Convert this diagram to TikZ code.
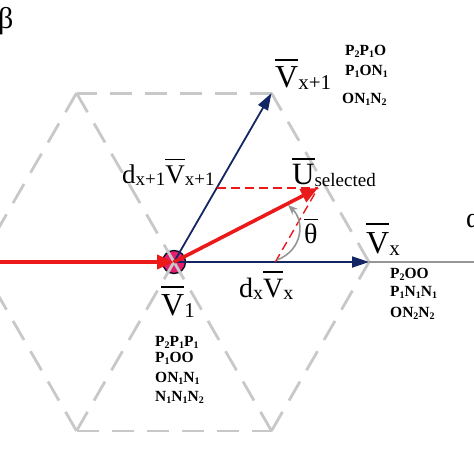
\documentclass[tikz,border=0pt]{standalone}
\usepackage{fontspec}
\setmainfont{Liberation Serif}
\usetikzlibrary{arrows.meta}
\definecolor{navy}{RGB}{18,38,100}
\definecolor{vred}{RGB}{235,25,25}
\definecolor{hexg}{RGB}{200,200,200}
\definecolor{pinkc}{RGB}{228,30,110}
\definecolor{arcg}{RGB}{150,150,150}
\newcommand\ovl[2][5pt]{\leavevmode\vbox{\hrule height 1.6pt\kern#1\hbox{#2}}}
\newcommand\lsub[2]{\raisebox{-2pt}{\fontsize{#1}{#1}\selectfont #2}}
\newcommand\bsub[1]{\raisebox{-2.5pt}{\fontsize{10}{10}\selectfont #1}}
\begin{document}
\begin{tikzpicture}[x=1pt,y=1pt,
  hexline/.style={draw=hexg,line width=2.8pt,dash pattern=on 22pt off 13pt},
  bluearrow/.style={draw=navy,line width=1.8pt,-{Triangle[length=17pt,width=11pt]}},
  redarrow/.style={draw=vred,line width=3.6pt,-{Triangle[length=17pt,width=14pt]}},
  reddash/.style={draw=vred,line width=1.4pt,dash pattern=on 9pt off 5pt},
  arcarrow/.style={draw=arcg,line width=1.6pt,-{Stealth[length=10pt,width=8pt]}},
  lbl/.style={inner sep=0pt,anchor=base west},
  sw/.style={inner sep=0pt,anchor=base west,font=\fontsize{15.5}{16}\selectfont\bfseries}]
\useasboundingbox (0,-474) rectangle (474,0);
% hexagon geometry
\coordinate (c)  at (174,-262);
\coordinate (h0) at (369,-262);
\coordinate (h1) at (271.5,-93.1);
\coordinate (h2) at (76.5,-93.1);
\coordinate (h3) at (-21,-262);
\coordinate (h4) at (76.5,-430.9);
\coordinate (h5) at (271.5,-430.9);
\coordinate (lft) at (0,-262);
\coordinate (aend) at (474,-262);
\coordinate (u) at (318,-188);
\coordinate (da) at (216.7,-188);
\coordinate (db) at (275.3,-262);
\coordinate (th1) at (277,-260);
\coordinate (th2) at (288,-205);
% V1 circle
\node[circle,minimum size=23pt,inner sep=0pt,fill=pinkc,draw=black!70!navy,line width=1.3pt] (v1) at (c) {};
% hexagon edges
\draw[hexline] (h0) -- (h1);
\draw[hexline] (h1) -- (h2);
\draw[hexline] (h2) -- (h3);
\draw[hexline] (h4) -- (h3);
\draw[hexline] (h4) -- (h5);
\draw[hexline] (h5) -- (h0);
% spokes
\draw[hexline] (h2) -- (c);
\draw[hexline] (h4) -- (c);
\draw[hexline] (h5) -- (c);
% alpha axis
\draw[draw=arcg,line width=1.4pt] (h0) -- (aend);
% blue vectors
\draw[bluearrow] (v1.center) -- (h0);
\draw[bluearrow] (v1.center) -- (h1);
% red vectors
\draw[redarrow] (lft) -- (v1.center);
\draw[redarrow] (v1.center) -- (u);
% projections
\draw[reddash] (da) -- (u);
\draw[reddash] (db) -- (u);
% theta arc
\draw[arcarrow] (th1) .. controls (303,-250) and (305,-221) .. (th2);
% labels
\node[lbl,font=\fontsize{30}{30}\selectfont] (beta) at (-2,-28) {β};
\node[lbl,font=\fontsize{28}{28}\selectfont] (alpha) at (466,-227) {α};
\node[lbl,font=\fontsize{32}{32}\selectfont] (lvx1) at (275,-87) {\ovl{V}\lsub{21}{x+1}};
\node[lbl,font=\fontsize{27}{27}\selectfont] (ldx1) at (122,-183) {d\lsub{19}{x+1}\ovl{V}\lsub{19}{x+1}};
\node[lbl,font=\fontsize{31}{31}\selectfont] (lu) at (292,-184) {\ovl[4pt]{U}\lsub{19}{selected}};
\node[lbl,font=\fontsize{28}{28}\selectfont] (lth) at (304,-243) {\ovl[3pt]{θ}};
\node[lbl,font=\fontsize{32}{32}\selectfont] (lvx) at (366,-253) {\ovl[7pt]{V}\lsub{21}{x}};
\node[lbl,font=\fontsize{28}{28}\selectfont] (ldx) at (239,-297) {d\lsub{20}{x}\ovl[6pt]{V}\lsub{20}{x}};
\node[lbl,font=\fontsize{32}{32}\selectfont] (lv1) at (161,-315) {\ovl[6pt]{V}\lsub{21}{1}};
% switching states
\node[sw] (s1) at (345,-55) {P\bsub{2}P\bsub{1}O};
\node[sw] (s2) at (345,-75) {P\bsub{1}ON\bsub{1}};
\node[sw] (s3) at (342,-103) {ON\bsub{1}N\bsub{2}};
\node[sw] (s4) at (390,-278) {P\bsub{2}OO};
\node[sw] (s5) at (390,-296) {P\bsub{1}N\bsub{1}N\bsub{1}};
\node[sw] (s6) at (390,-317) {ON\bsub{2}N\bsub{2}};
\node[sw] (s7) at (155,-346) {P\bsub{2}P\bsub{1}P\bsub{1}};
\node[sw] (s8) at (155,-362) {P\bsub{1}OO};
\node[sw] (s9) at (155,-382) {ON\bsub{1}N\bsub{1}};
\node[sw] (s10) at (155,-401) {N\bsub{1}N\bsub{1}N\bsub{2}};
\end{tikzpicture}
\end{document}
